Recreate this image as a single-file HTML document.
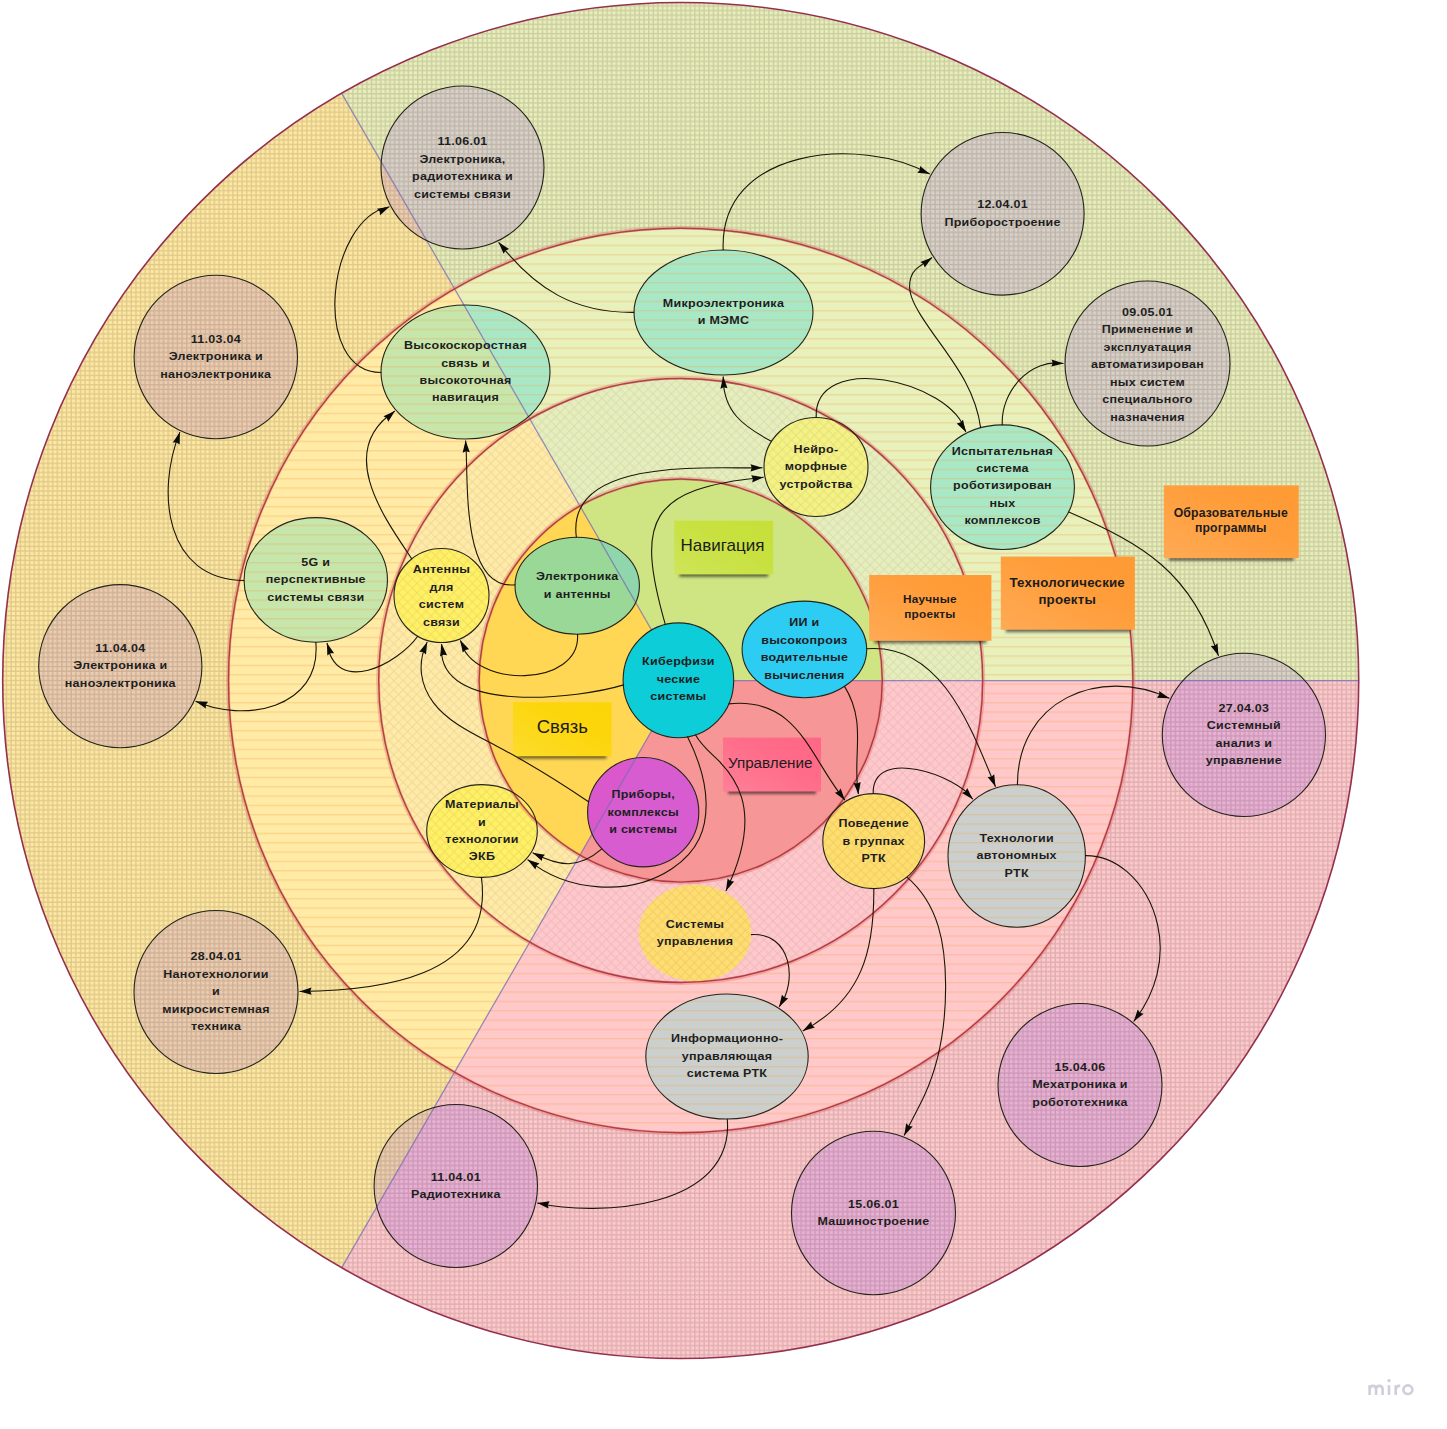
<!DOCTYPE html>
<html><head><meta charset="utf-8"><title>diagram</title>
<style>
html,body{margin:0;padding:0;background:#fff;}
body{width:1447px;height:1429px;overflow:hidden;position:relative;font-family:"Liberation Sans",sans-serif;}
svg{position:absolute;left:0;top:0;display:block}
text{font-family:"Liberation Sans",sans-serif;}
.nt{font-weight:bold;font-size:11.7px;letter-spacing:0.25px;fill:#1e1e1e;text-anchor:middle}
.st{font-weight:normal;fill:#1c1c1c;text-anchor:middle}
.sb{font-weight:bold;fill:#1c1c1c;text-anchor:middle;letter-spacing:0.2px}
.ar{fill:none;stroke:#1a1606;stroke-width:1.1}
</style></head><body>
<svg width="1447" height="1429" viewBox="0 0 1447 1429">
<defs>
<pattern id="pgrid" width="46.200" height="46.200" patternUnits="userSpaceOnUse" x="1.2" y="0.6"><g opacity="0.15" fill="#300c06"><rect x="0" y="0.000" width="46.200" height="1.4"/><rect x="0.000" y="0" width="1.4" height="46.200"/><rect x="0" y="4.620" width="46.200" height="1.4"/><rect x="4.620" y="0" width="1.4" height="46.200"/><rect x="0" y="9.240" width="46.200" height="1.4"/><rect x="9.240" y="0" width="1.4" height="46.200"/><rect x="0" y="13.860" width="46.200" height="1.4"/><rect x="13.860" y="0" width="1.4" height="46.200"/><rect x="0" y="18.480" width="46.200" height="1.4"/><rect x="18.480" y="0" width="1.4" height="46.200"/><rect x="0" y="23.100" width="46.200" height="1.4"/><rect x="23.100" y="0" width="1.4" height="46.200"/><rect x="0" y="27.720" width="46.200" height="1.4"/><rect x="27.720" y="0" width="1.4" height="46.200"/><rect x="0" y="32.340" width="46.200" height="1.4"/><rect x="32.340" y="0" width="1.4" height="46.200"/><rect x="0" y="36.960" width="46.200" height="1.4"/><rect x="36.960" y="0" width="1.4" height="46.200"/><rect x="0" y="41.580" width="46.200" height="1.4"/><rect x="41.580" y="0" width="1.4" height="46.200"/></g></pattern>
<pattern id="phl" width="40" height="27.999" patternUnits="userSpaceOnUse" x="0" y="2.32"><g fill="#F39A40" opacity="0.38"><rect x="0" y="0.000" width="40" height="1.05"/><rect x="0" y="9.333" width="40" height="1.05"/><rect x="0" y="18.666" width="40" height="1.05"/></g></pattern>
<pattern id="pxh" width="32.700" height="32.700" patternUnits="userSpaceOnUse" patternTransform="rotate(45 680.7 680.5)"><g opacity="0.095" fill="#4a3408"><rect x="0" y="0.000" width="32.700" height="0.95"/><rect x="0.000" y="0" width="0.95" height="32.700"/><rect x="0" y="6.540" width="32.700" height="0.95"/><rect x="6.540" y="0" width="0.95" height="32.700"/><rect x="0" y="13.080" width="32.700" height="0.95"/><rect x="13.080" y="0" width="0.95" height="32.700"/><rect x="0" y="19.620" width="32.700" height="0.95"/><rect x="19.620" y="0" width="0.95" height="32.700"/><rect x="0" y="26.160" width="32.700" height="0.95"/><rect x="26.160" y="0" width="0.95" height="32.700"/></g></pattern>
<clipPath id="cOuter"><circle cx="680.7" cy="680.5" r="678.0"/></clipPath>
<clipPath id="cSy"><path d="M680.7,680.5 L230.70,-98.92 A900,900 0 0 0 230.70,1459.92 Z"/></clipPath>
<clipPath id="cSg"><path d="M680.7,680.5 L1580.70,680.50 A900,900 0 0 0 230.70,-98.92 Z"/></clipPath>
<clipPath id="cSr"><path d="M680.7,680.5 L230.70,1459.92 A900,900 0 0 0 1580.70,680.50 Z"/></clipPath>
<marker id="ah" viewBox="0 0 12 8" refX="11.5" refY="4" markerWidth="12" markerHeight="8" markerUnits="userSpaceOnUse" orient="auto">
 <path d="M0,0 L12,4 L0,8 L2.2,4 Z" fill="#0c0c08"/>
</marker>
<linearGradient id="stg" x1="0" y1="1" x2="1" y2="0"><stop offset="0" stop-color="#fff" stop-opacity="0.16"/><stop offset="0.6" stop-color="#fff" stop-opacity="0.03"/><stop offset="1" stop-color="#fff" stop-opacity="0"/></linearGradient>
<filter id="sh" x="-10%" y="-10%" width="120%" height="140%">
 <feGaussianBlur stdDeviation="1.6"/>
</filter>
</defs>
<rect width="1447" height="1429" fill="#ffffff"/>

<path d="M680.7,680.5 L1358.70,680.50 A678.0,678.0 0 0 0 341.70,93.33 Z" fill="#E7EFBB"/>
<path d="M680.7,680.5 L341.70,93.33 A678.0,678.0 0 0 0 341.70,1267.67 Z" fill="#FEE9A2"/>
<path d="M680.7,680.5 L341.70,1267.67 A678.0,678.0 0 0 0 1358.70,680.50 Z" fill="#FECACD"/>
<path d="M680.7,680.5 L1132.90,680.50 A452.2,452.2 0 0 0 454.60,288.88 Z" fill="#E8F0BC"/>
<path d="M680.7,680.5 L454.60,288.88 A452.2,452.2 0 0 0 454.60,1072.12 Z" fill="#FFEAA6"/>
<path d="M680.7,680.5 L454.60,1072.12 A452.2,452.2 0 0 0 1132.90,680.50 Z" fill="#FFC8C9"/>
<path d="M680.7,680.5 L982.70,680.50 A302.0,302.0 0 0 0 529.70,418.96 Z" fill="#E6EEBE"/>
<path d="M680.7,680.5 L529.70,418.96 A302.0,302.0 0 0 0 529.70,942.04 Z" fill="#FFEAA8"/>
<path d="M680.7,680.5 L529.70,942.04 A302.0,302.0 0 0 0 982.70,680.50 Z" fill="#FFC8CC"/>
<path d="M680.7,680.5 L882.30,680.50 A201.6,201.6 0 0 0 579.90,505.91 Z" fill="#CFE584"/>
<path d="M680.7,680.5 L579.90,505.91 A201.6,201.6 0 0 0 579.90,855.09 Z" fill="#FFD754"/>
<path d="M680.7,680.5 L579.90,855.09 A201.6,201.6 0 0 0 882.30,680.50 Z" fill="#F79696"/>
<g id="nodes">
<ellipse cx="462.5" cy="167.5" rx="81.5" ry="81.5" fill="#D8D2C8" clip-path="url(#cSg)"/>
<ellipse cx="462.5" cy="167.5" rx="81.5" ry="81.5" fill="#EBCDB0" clip-path="url(#cSy)"/>
<ellipse cx="215.8" cy="357.0" rx="81.7" ry="81.7" fill="#EBCDB0"/>
<ellipse cx="120.3" cy="666.2" rx="81.6" ry="81.6" fill="#EBCDB0"/>
<ellipse cx="216.0" cy="992.0" rx="82.0" ry="81.5" fill="#EBCDB0"/>
<ellipse cx="455.8" cy="1186.0" rx="81.7" ry="81.5" fill="#E8B1D5" clip-path="url(#cSr)"/>
<ellipse cx="455.8" cy="1186.0" rx="81.7" ry="81.5" fill="#EBCDB0" clip-path="url(#cSy)"/>
<ellipse cx="873.5" cy="1213.0" rx="82.0" ry="81.7" fill="#E8B1D5"/>
<ellipse cx="1080.0" cy="1085.0" rx="82.0" ry="81.5" fill="#E8B1D5"/>
<ellipse cx="1243.9" cy="734.9" rx="81.6" ry="81.6" fill="#D8D2C8" clip-path="url(#cSg)"/>
<ellipse cx="1243.9" cy="734.9" rx="81.6" ry="81.6" fill="#E8B1D5" clip-path="url(#cSr)"/>
<ellipse cx="1147.5" cy="363.5" rx="82.5" ry="82.5" fill="#D8D2C8"/>
<ellipse cx="1002.6" cy="213.8" rx="81.5" ry="81.3" fill="#D8D2C8"/>
<ellipse cx="723.5" cy="312.5" rx="89.5" ry="62.5" fill="#A9E8C6"/>
<ellipse cx="465.5" cy="372.0" rx="84.5" ry="67.0" fill="#A9E8C6" clip-path="url(#cSg)"/>
<ellipse cx="465.5" cy="372.0" rx="84.5" ry="67.0" fill="#C6E6AC" clip-path="url(#cSy)"/>
<ellipse cx="315.75" cy="579.9" rx="71.7" ry="62.3" fill="#C6E6AC"/>
<ellipse cx="1002.5" cy="487.2" rx="71.9" ry="62.3" fill="#A9E8C6"/>
<ellipse cx="1016.7" cy="856.0" rx="68.7" ry="71.2" fill="#CBD0CE"/>
<ellipse cx="727.0" cy="1056.5" rx="81.2" ry="62.5" fill="#CBD0CE"/>
<ellipse cx="441.5" cy="595.5" rx="47.5" ry="47.0" fill="#FFF066"/>
<ellipse cx="816.0" cy="467.0" rx="52.0" ry="49.5" fill="#F4F285"/>
<ellipse cx="482.0" cy="831.0" rx="55.3" ry="46.4" fill="#FFF066"/>
<ellipse cx="695.0" cy="933.0" rx="56.3" ry="48.3" fill="#FFDD70"/>
<ellipse cx="873.7" cy="841.1" rx="50.9" ry="47.5" fill="#FFDE6E"/>
<ellipse cx="577.2" cy="585.7" rx="62.2" ry="48.5" fill="#8FD6AC" clip-path="url(#cSg)"/>
<ellipse cx="577.2" cy="585.7" rx="62.2" ry="48.5" fill="#9AD898" clip-path="url(#cSy)"/>
<ellipse cx="643.2" cy="812.2" rx="55.6" ry="54.7" fill="#D65CCF" clip-path="url(#cSr)"/>
<ellipse cx="643.2" cy="812.2" rx="55.6" ry="54.7" fill="#DA58CC" clip-path="url(#cSy)"/>
</g>
<path d="M2.7000000000000455,680.5 a678.0,678.0 0 1 0 1356.0,0 a678.0,678.0 0 1 0 -1356.0,0 Z M228.50000000000006,680.5 a452.2,452.2 0 1 0 904.4,0 a452.2,452.2 0 1 0 -904.4,0 Z" fill="url(#pgrid)" fill-rule="evenodd"/>
<path d="M228.50000000000006,680.5 a452.2,452.2 0 1 0 904.4,0 a452.2,452.2 0 1 0 -904.4,0 Z M378.70000000000005,680.5 a302.0,302.0 0 1 0 604.0,0 a302.0,302.0 0 1 0 -604.0,0 Z" fill="url(#phl)" fill-rule="evenodd"/>
<path d="M378.70000000000005,680.5 a302.0,302.0 0 1 0 604.0,0 a302.0,302.0 0 1 0 -604.0,0 Z M479.1,680.5 a201.6,201.6 0 1 0 403.2,0 a201.6,201.6 0 1 0 -403.2,0 Z" fill="url(#pxh)" fill-rule="evenodd"/>
<line x1="680.7" y1="680.5" x2="1358.70" y2="680.50" stroke="#7468B4" stroke-opacity="0.75" stroke-width="1.25"/>
<line x1="680.7" y1="680.5" x2="341.70" y2="93.33" stroke="#7468B4" stroke-opacity="0.75" stroke-width="1.25"/>
<line x1="680.7" y1="680.5" x2="341.70" y2="1267.67" stroke="#7468B4" stroke-opacity="0.75" stroke-width="1.25"/>
<ellipse cx="804.4" cy="649.4" rx="62.3" ry="48.3" fill="#2CCCF3"/>
<ellipse cx="678.4" cy="680.3" rx="55.3" ry="57.4" fill="#0CCDD8"/>
<circle cx="680.7" cy="680.5" r="452.8" fill="none" stroke="#E07070" stroke-opacity="0.4" stroke-width="3.8"/>
<circle cx="680.7" cy="680.5" r="452.2" fill="none" stroke="#A62C34" stroke-opacity="0.85" stroke-width="1.45"/>
<circle cx="680.7" cy="680.5" r="302.6" fill="none" stroke="#E07070" stroke-opacity="0.4" stroke-width="3.8"/>
<circle cx="680.7" cy="680.5" r="302.0" fill="none" stroke="#A62C34" stroke-opacity="0.85" stroke-width="1.45"/>
<circle cx="680.7" cy="680.5" r="202.2" fill="none" stroke="#E07070" stroke-opacity="0.4" stroke-width="3.8"/>
<circle cx="680.7" cy="680.5" r="201.6" fill="none" stroke="#A62C34" stroke-opacity="0.85" stroke-width="1.45"/>
<circle cx="680.7" cy="680.5" r="678.0" fill="none" stroke="#94304E" stroke-width="1.6"/>
<g id="nstroke" fill="none" stroke="#24241a" stroke-width="1.1">
<ellipse cx="462.5" cy="167.5" rx="81.5" ry="81.5"/>
<ellipse cx="215.8" cy="357.0" rx="81.7" ry="81.7"/>
<ellipse cx="120.3" cy="666.2" rx="81.6" ry="81.6"/>
<ellipse cx="216.0" cy="992.0" rx="82.0" ry="81.5"/>
<ellipse cx="455.8" cy="1186.0" rx="81.7" ry="81.5"/>
<ellipse cx="873.5" cy="1213.0" rx="82.0" ry="81.7"/>
<ellipse cx="1080.0" cy="1085.0" rx="82.0" ry="81.5"/>
<ellipse cx="1243.9" cy="734.9" rx="81.6" ry="81.6"/>
<ellipse cx="1147.5" cy="363.5" rx="82.5" ry="82.5"/>
<ellipse cx="1002.6" cy="213.8" rx="81.5" ry="81.3"/>
<ellipse cx="723.5" cy="312.5" rx="89.5" ry="62.5"/>
<ellipse cx="465.5" cy="372.0" rx="84.5" ry="67.0"/>
<ellipse cx="315.75" cy="579.9" rx="71.7" ry="62.3"/>
<ellipse cx="1002.5" cy="487.2" rx="71.9" ry="62.3"/>
<ellipse cx="1016.7" cy="856.0" rx="68.7" ry="71.2"/>
<ellipse cx="727.0" cy="1056.5" rx="81.2" ry="62.5"/>
<ellipse cx="441.5" cy="595.5" rx="47.5" ry="47.0"/>
<ellipse cx="816.0" cy="467.0" rx="52.0" ry="49.5"/>
<ellipse cx="482.0" cy="831.0" rx="55.3" ry="46.4"/>
<ellipse cx="873.7" cy="841.1" rx="50.9" ry="47.5"/>
<ellipse cx="577.2" cy="585.7" rx="62.2" ry="48.5"/>
<ellipse cx="804.4" cy="649.4" rx="62.3" ry="48.3"/>
<ellipse cx="643.2" cy="812.2" rx="55.6" ry="54.7"/>
<ellipse cx="678.4" cy="680.3" rx="55.3" ry="57.4"/>
</g>
<g id="ntext">
<text class="nt" transform="translate(462.5,145.2) scale(1.07,1)">11.06.01</text>
<text class="nt" transform="translate(462.5,162.7) scale(1.07,1)">Электроника,</text>
<text class="nt" transform="translate(462.5,180.1) scale(1.07,1)">радиотехника и</text>
<text class="nt" transform="translate(462.5,197.6) scale(1.07,1)">системы связи</text>
<text class="nt" transform="translate(215.8,342.8) scale(1.07,1)">11.03.04</text>
<text class="nt" transform="translate(215.8,360.2) scale(1.07,1)">Электроника и</text>
<text class="nt" transform="translate(215.8,377.6) scale(1.07,1)">наноэлектроника</text>
<text class="nt" transform="translate(120.3,651.6) scale(1.07,1)">11.04.04</text>
<text class="nt" transform="translate(120.3,669.1) scale(1.07,1)">Электроника и</text>
<text class="nt" transform="translate(120.3,686.5) scale(1.07,1)">наноэлектроника</text>
<text class="nt" transform="translate(216.0,960.3) scale(1.07,1)">28.04.01</text>
<text class="nt" transform="translate(216.0,977.8) scale(1.07,1)">Нанотехнологии</text>
<text class="nt" transform="translate(216.0,995.2) scale(1.07,1)">и</text>
<text class="nt" transform="translate(216.0,1012.7) scale(1.07,1)">микросистемная</text>
<text class="nt" transform="translate(216.0,1030.1) scale(1.07,1)">техника</text>
<text class="nt" transform="translate(455.8,1180.5) scale(1.07,1)">11.04.01</text>
<text class="nt" transform="translate(455.8,1197.9) scale(1.07,1)">Радиотехника</text>
<text class="nt" transform="translate(873.5,1207.5) scale(1.07,1)">15.06.01</text>
<text class="nt" transform="translate(873.5,1224.9) scale(1.07,1)">Машиностроение</text>
<text class="nt" transform="translate(1080.0,1070.8) scale(1.07,1)">15.04.06</text>
<text class="nt" transform="translate(1080.0,1088.2) scale(1.07,1)">Мехатроника и</text>
<text class="nt" transform="translate(1080.0,1105.7) scale(1.07,1)">робототехника</text>
<text class="nt" transform="translate(1243.9,711.9) scale(1.07,1)">27.04.03</text>
<text class="nt" transform="translate(1243.9,729.4) scale(1.07,1)">Системный</text>
<text class="nt" transform="translate(1243.9,746.8) scale(1.07,1)">анализ и</text>
<text class="nt" transform="translate(1243.9,764.3) scale(1.07,1)">управление</text>
<text class="nt" transform="translate(1147.5,315.8) scale(1.07,1)">09.05.01</text>
<text class="nt" transform="translate(1147.5,333.3) scale(1.07,1)">Применение и</text>
<text class="nt" transform="translate(1147.5,350.7) scale(1.07,1)">эксплуатация</text>
<text class="nt" transform="translate(1147.5,368.2) scale(1.07,1)">автоматизирован</text>
<text class="nt" transform="translate(1147.5,385.6) scale(1.07,1)">ных систем</text>
<text class="nt" transform="translate(1147.5,403.1) scale(1.07,1)">специального</text>
<text class="nt" transform="translate(1147.5,420.5) scale(1.07,1)">назначения</text>
<text class="nt" transform="translate(1002.6,208.2) scale(1.07,1)">12.04.01</text>
<text class="nt" transform="translate(1002.6,225.6) scale(1.07,1)">Приборостроение</text>
<text class="nt" transform="translate(723.5,307.0) scale(1.07,1)">Микроэлектроника</text>
<text class="nt" transform="translate(723.5,324.4) scale(1.07,1)">и МЭМС</text>
<text class="nt" transform="translate(465.5,349.0) scale(1.07,1)">Высокоскоростная</text>
<text class="nt" transform="translate(465.5,366.5) scale(1.07,1)">связь и</text>
<text class="nt" transform="translate(465.5,383.9) scale(1.07,1)">высокоточная</text>
<text class="nt" transform="translate(465.5,401.4) scale(1.07,1)">навигация</text>
<text class="nt" transform="translate(315.8,565.6) scale(1.07,1)">5G и</text>
<text class="nt" transform="translate(315.8,583.1) scale(1.07,1)">перспективные</text>
<text class="nt" transform="translate(315.8,600.5) scale(1.07,1)">системы связи</text>
<text class="nt" transform="translate(1002.5,454.5) scale(1.07,1)">Испытательная</text>
<text class="nt" transform="translate(1002.5,471.9) scale(1.07,1)">система</text>
<text class="nt" transform="translate(1002.5,489.4) scale(1.07,1)">роботизирован</text>
<text class="nt" transform="translate(1002.5,506.9) scale(1.07,1)">ных</text>
<text class="nt" transform="translate(1002.5,524.3) scale(1.07,1)">комплексов</text>
<text class="nt" transform="translate(1016.7,841.8) scale(1.07,1)">Технологии</text>
<text class="nt" transform="translate(1016.7,859.2) scale(1.07,1)">автономных</text>
<text class="nt" transform="translate(1016.7,876.6) scale(1.07,1)">РТК</text>
<text class="nt" transform="translate(727.0,1042.2) scale(1.07,1)">Информационно-</text>
<text class="nt" transform="translate(727.0,1059.7) scale(1.07,1)">управляющая</text>
<text class="nt" transform="translate(727.0,1077.2) scale(1.07,1)">система РТК</text>
<text class="nt" transform="translate(441.5,573.3) scale(1.07,1)">Антенны</text>
<text class="nt" transform="translate(441.5,590.8) scale(1.07,1)">для</text>
<text class="nt" transform="translate(441.5,608.2) scale(1.07,1)">систем</text>
<text class="nt" transform="translate(441.5,625.7) scale(1.07,1)">связи</text>
<text class="nt" transform="translate(816.0,452.8) scale(1.07,1)">Нейро-</text>
<text class="nt" transform="translate(816.0,470.2) scale(1.07,1)">морфные</text>
<text class="nt" transform="translate(816.0,487.6) scale(1.07,1)">устройства</text>
<text class="nt" transform="translate(482.0,808.0) scale(1.07,1)">Материалы</text>
<text class="nt" transform="translate(482.0,825.5) scale(1.07,1)">и</text>
<text class="nt" transform="translate(482.0,842.9) scale(1.07,1)">технологии</text>
<text class="nt" transform="translate(482.0,860.4) scale(1.07,1)">ЭКБ</text>
<text class="nt" transform="translate(695.0,927.5) scale(1.07,1)">Системы</text>
<text class="nt" transform="translate(695.0,944.9) scale(1.07,1)">управления</text>
<text class="nt" transform="translate(873.7,827.1) scale(1.07,1)">Поведение</text>
<text class="nt" transform="translate(873.7,844.6) scale(1.07,1)">в группах</text>
<text class="nt" transform="translate(873.7,862.0) scale(1.07,1)">РТК</text>
<text class="nt" transform="translate(577.2,580.2) scale(1.07,1)">Электроника</text>
<text class="nt" transform="translate(577.2,597.6) scale(1.07,1)">и антенны</text>
<text class="nt" transform="translate(804.4,626.1) scale(1.07,1)">ИИ и</text>
<text class="nt" transform="translate(804.4,643.6) scale(1.07,1)">высокопроиз</text>
<text class="nt" transform="translate(804.4,661.0) scale(1.07,1)">водительные</text>
<text class="nt" transform="translate(804.4,678.5) scale(1.07,1)">вычисления</text>
<text class="nt" transform="translate(643.2,798.2) scale(1.07,1)">Приборы,</text>
<text class="nt" transform="translate(643.2,815.7) scale(1.07,1)">комплексы</text>
<text class="nt" transform="translate(643.2,833.1) scale(1.07,1)">и системы</text>
<text class="nt" transform="translate(678.4,665.3) scale(1.07,1)">Киберфизи</text>
<text class="nt" transform="translate(678.4,682.8) scale(1.07,1)">ческие</text>
<text class="nt" transform="translate(678.4,700.2) scale(1.07,1)">системы</text>
</g>
<g id="stickies">
<rect x="679.4" y="568.4" width="88.7" height="8.5" fill="#000" fill-opacity="0.55" filter="url(#sh)"/>
<rect x="674.4" y="520.7" width="98.7" height="53.7" fill="#C6E039"/>
<rect x="674.4" y="520.7" width="98.7" height="53.7" fill="url(#stg)"/>
<text class="st" font-size="17.0" x="722.5" y="551.2">Навигация</text>
<rect x="518.0" y="750.2" width="88.5" height="8.5" fill="#000" fill-opacity="0.55" filter="url(#sh)"/>
<rect x="513.0" y="702.3" width="98.5" height="53.9" fill="#FCD505"/>
<rect x="513.0" y="702.3" width="98.5" height="53.9" fill="url(#stg)"/>
<text class="st" font-size="18.5" x="562.3" y="733.0">Связь</text>
<rect x="728.0" y="785.5" width="88.0" height="8.5" fill="#000" fill-opacity="0.55" filter="url(#sh)"/>
<rect x="723.0" y="737.6" width="98.0" height="53.9" fill="#FF6785"/>
<rect x="723.0" y="737.6" width="98.0" height="53.9" fill="url(#stg)"/>
<text class="st" font-size="15.2" x="770.2" y="767.6">Управление</text>
<rect x="874.2" y="634.8" width="112.2" height="8.5" fill="#000" fill-opacity="0.55" filter="url(#sh)"/>
<rect x="869.2" y="575.0" width="122.2" height="65.8" fill="#FF9A34"/>
<rect x="869.2" y="575.0" width="122.2" height="65.8" fill="url(#stg)"/>
<text class="sb" font-size="11.8" x="929.9" y="602.6">Научные</text>
<text class="sb" font-size="11.8" x="929.9" y="617.7">проекты</text>
<rect x="1005.8" y="623.7" width="124.1" height="8.5" fill="#000" fill-opacity="0.55" filter="url(#sh)"/>
<rect x="1000.8" y="556.6" width="134.1" height="73.1" fill="#FF9A34"/>
<rect x="1000.8" y="556.6" width="134.1" height="73.1" fill="url(#stg)"/>
<text class="sb" font-size="13.3" x="1067.2" y="587.2">Технологические</text>
<text class="sb" font-size="13.3" x="1067.2" y="604.3">проекты</text>
<rect x="1168.8" y="552.2" width="124.9" height="8.5" fill="#000" fill-opacity="0.55" filter="url(#sh)"/>
<rect x="1163.8" y="485.4" width="134.9" height="72.8" fill="#FF9A34"/>
<rect x="1163.8" y="485.4" width="134.9" height="72.8" fill="url(#stg)"/>
<text class="sb" font-size="12.2" x="1230.8" y="516.6">Образовательные</text>
<text class="sb" font-size="12.2" x="1230.8" y="532.2">программы</text>
</g>
<g id="arrows">
<path id="A1" class="ar" d="M244.4,580.5 C164.4,579.8 156.0,491.2 179.9,432.1"/>
<path id="A2" class="ar" d="M315.8,641.9 C321.9,710.0 241.9,722.7 195.6,701.3"/>
<path id="A3" class="ar" d="M417.9,636.0 C398.0,663.9 335.2,697.0 327.0,642.9"/>
<path id="A4" class="ar" d="M412.0,559.1 C382.9,516.1 335.5,450.1 394.9,411.0"/>
<path id="A5" class="ar" d="M515.3,584.7 C459.3,590.8 468.9,473.5 465.6,440.5"/>
<path id="A6" class="ar" d="M381.3,372.5 C310.7,372.4 326.5,218.5 389.4,206.8"/>
<path id="A7" class="ar" d="M634.3,312.4 C574.3,313.0 536.1,289.8 498.6,242.3"/>
<path id="A8" class="ar" d="M577.5,633.9 C581.7,687.7 471.9,689.2 460.4,640.3"/>
<path id="A9" class="ar" d="M623.6,684.9 C583.2,697.5 433.9,717.7 441.7,644.0"/>
<path id="A10" class="ar" d="M588.9,802.0 C558.3,781.3 529.0,763.0 495.9,745.7 C472.8,733.6 447.8,722.0 433.2,702.3 C421.2,686.1 416.2,664.4 427.2,641.9"/>
<path id="A11" class="ar" d="M576.4,537.5 C565.0,455.4 714.2,469.3 762.5,467.8"/>
<path id="A12" class="ar" d="M665.4,624.8 C635.3,519.8 648.7,488.5 763.6,477.2"/>
<path id="A13" class="ar" d="M602.2,848.7 C578.2,869.6 559.2,866.4 532.6,852.7"/>
<path id="A14" class="ar" d="M687.4,736.6 C698.2,758.0 705.8,780.2 706.1,803.1 C706.3,815.4 704.4,827.9 699.2,838.7 C693.4,851.0 683.4,861.0 671.9,868.7 C629.6,896.7 567.2,892.1 527.6,859.6"/>
<path id="A15" class="ar" d="M481.4,877.1 C495.5,981.2 371.0,990.8 299.5,991.5"/>
<path id="A16" class="ar" d="M695.3,734.6 C701.5,746.0 710.6,752.8 718.6,760.7 C729.1,771.3 737.6,783.9 741.7,797.8 C750.5,827.8 739.0,863.7 725.9,890.9"/>
<path id="A17" class="ar" d="M728.5,703.9 C798.6,696.6 809.4,757.1 844.9,800.2"/>
<path id="A18" class="ar" d="M844.4,686.1 C867.5,723.1 851.9,756.4 858.4,794.2"/>
<path id="A19" class="ar" d="M866.4,648.8 C941.8,642.5 971.8,730.2 995.5,786.7"/>
<path id="A20" class="ar" d="M873.2,793.9 C871.7,745.7 957.6,775.4 972.8,799.3"/>
<path id="A21" class="ar" d="M1017.4,785.1 C1017.3,700.3 1099.2,665.6 1169.4,698.2"/>
<path id="A22" class="ar" d="M1085.1,855.6 C1101.8,855.4 1115.7,861.9 1127.0,871.7 C1142.5,885.2 1153.2,904.9 1157.7,925.3 C1165.0,958.1 1156.3,992.8 1133.7,1021.5"/>
<path id="A23" class="ar" d="M906.7,876.9 C939.3,904.8 945.3,945.2 945.6,984.2 C945.9,1022.9 940.5,1060.1 924.6,1095.1 C918.6,1108.3 911.0,1121.3 904.2,1135.6"/>
<path id="A24" class="ar" d="M873.8,888.3 C874.4,950.5 862.1,999.5 802.8,1030.9"/>
<path id="A25" class="ar" d="M751.0,934.6 C791.6,932.0 798.0,981.8 779.1,1006.9"/>
<path id="A26" class="ar" d="M727.3,1118.7 C734.9,1209.3 597.9,1216.8 537.2,1203.0"/>
<path id="A27" class="ar" d="M723.2,250.3 C718.6,147.2 860.9,135.6 929.8,174.1"/>
<path id="A28" class="ar" d="M816.2,417.8 C813.0,350.2 951.2,379.8 965.8,432.0"/>
<path id="A29" class="ar" d="M771.8,441.5 C743.2,426.4 722.8,411.6 723.2,376.5"/>
<path id="A30" class="ar" d="M980.7,428.1 C974.3,381.0 943.8,351.9 921.0,315.6 C913.4,303.5 906.6,290.6 910.9,277.3 C913.0,268.5 923.5,264.5 932.1,257.5"/>
<path id="A31" class="ar" d="M1002.3,425.2 C1000.4,391.1 1030.9,357.8 1063.5,363.5"/>
<path id="A32" class="ar" d="M1068.2,511.8 C1144.5,544.8 1191.3,572.7 1218.5,655.8"/>
<g fill="#0a0a06" stroke="none">
<path d="M179.9,432.1 L179.7,444.6 L176.6,442.4 L172.8,442.4 Z"/>
<path d="M195.6,701.3 L208.1,701.8 L205.8,704.8 L205.8,708.6 Z"/>
<path d="M327.0,642.9 L334.1,653.2 L330.3,653.2 L327.3,655.4 Z"/>
<path d="M394.9,411.0 L388.3,421.7 L386.8,418.2 L383.5,416.3 Z"/>
<path d="M465.6,440.5 L469.8,452.3 L466.1,451.3 L462.6,452.7 Z"/>
<path d="M389.4,206.8 L380.1,215.2 L379.7,211.5 L377.0,208.7 Z"/>
<path d="M498.6,242.3 L509.1,249.1 L505.6,250.5 L503.6,253.8 Z"/>
<path d="M460.4,640.3 L469.1,649.3 L465.4,649.9 L462.7,652.6 Z"/>
<path d="M441.7,644.0 L447.1,655.3 L443.4,654.7 L440.0,656.4 Z"/>
<path d="M427.2,641.9 L426.0,654.4 L423.1,651.9 L419.3,651.7 Z"/>
<path d="M762.5,467.8 L750.5,471.4 L751.7,467.8 L750.5,464.2 Z"/>
<path d="M763.6,477.2 L752.2,482.4 L752.9,478.7 L751.2,475.2 Z"/>
<path d="M532.6,852.7 L545.0,854.7 L542.3,857.4 L541.9,861.1 Z"/>
<path d="M527.6,859.6 L539.5,863.5 L536.5,865.7 L535.4,869.4 Z"/>
<path d="M299.5,991.5 L311.4,987.6 L310.3,991.2 L311.6,994.8 Z"/>
<path d="M725.9,890.9 L727.6,878.5 L730.4,881.1 L734.1,881.5 Z"/>
<path d="M844.9,800.2 L834.9,792.7 L838.5,791.5 L840.7,788.4 Z"/>
<path d="M858.4,794.2 L853.5,782.7 L857.2,783.5 L860.7,781.9 Z"/>
<path d="M995.5,786.7 L987.6,777.0 L991.4,776.7 L994.2,774.2 Z"/>
<path d="M972.8,799.3 L961.9,793.1 L965.4,791.5 L967.2,788.1 Z"/>
<path d="M1169.4,698.2 L1156.9,697.7 L1159.2,694.7 L1159.2,690.9 Z"/>
<path d="M1133.7,1021.5 L1137.7,1009.6 L1140.0,1012.7 L1143.6,1013.8 Z"/>
<path d="M904.2,1135.6 L906.2,1123.2 L908.9,1125.9 L912.7,1126.4 Z"/>
<path d="M802.8,1030.9 L811.1,1021.5 L812.0,1025.2 L814.9,1027.6 Z"/>
<path d="M779.1,1006.9 L781.9,994.7 L784.5,997.5 L788.2,998.3 Z"/>
<path d="M537.2,1203.0 L549.6,1201.3 L547.9,1204.7 L548.5,1208.4 Z"/>
<path d="M929.8,174.1 L917.3,172.8 L919.8,169.9 L920.1,166.1 Z"/>
<path d="M965.8,432.0 L956.7,423.4 L960.4,422.6 L963.0,419.8 Z"/>
<path d="M723.2,376.5 L727.5,388.3 L723.9,387.3 L720.4,388.7 Z"/>
<path d="M932.1,257.5 L924.7,267.6 L923.5,264.0 L920.4,261.9 Z"/>
<path d="M1063.5,363.5 L1051.4,366.6 L1052.7,363.1 L1051.6,359.5 Z"/>
<path d="M1218.5,655.8 L1210.8,645.9 L1214.6,645.7 L1217.5,643.3 Z"/>
</g></g>
<g fill="none" stroke="#CFCFDB" stroke-width="2.6" stroke-linejoin="round"><path d="M1369.6,1394.9 V1385.2 M1369.6,1389.6 C1369.6,1384.6 1376.1,1384.6 1376.1,1389.6 V1394.9 M1376.1,1389.6 C1376.1,1384.6 1382.6,1384.6 1382.6,1389.6 V1394.9"/><path d="M1389,1385.2 V1394.9"/><path d="M1395.7,1385.2 V1394.9 M1395.7,1390.4 C1395.7,1386.8 1397.6,1385.6 1400.2,1385.6"/><ellipse cx="1407.9" cy="1389.7" rx="4.5" ry="4.3"/></g><circle cx="1389" cy="1380.6" r="1.7" fill="#CFCFDB"/>
</svg></body></html>
